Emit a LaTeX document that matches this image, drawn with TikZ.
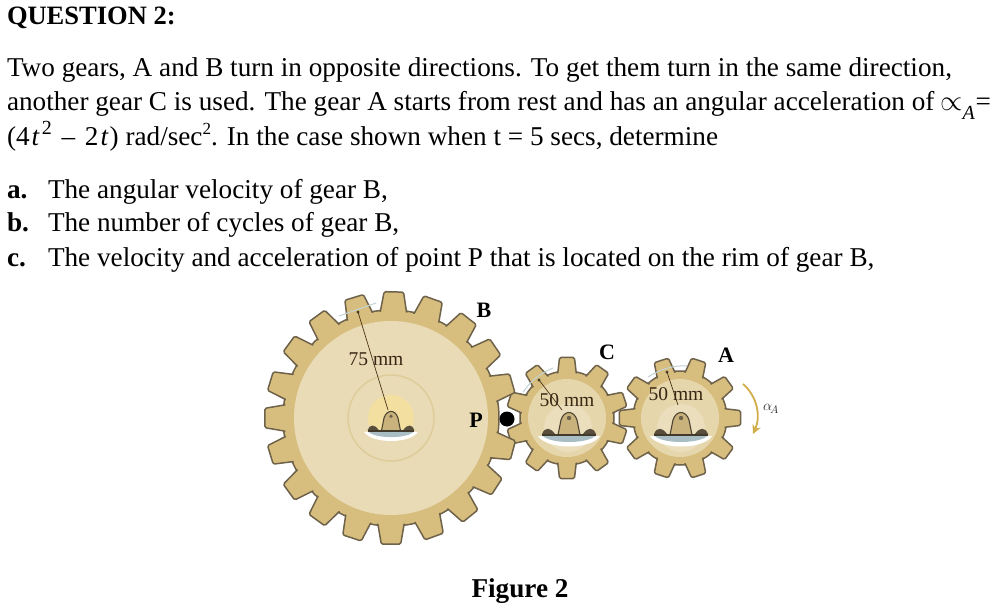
\documentclass[tikz,border=0pt]{standalone}
\usepackage{fontspec}
\setmainfont{Liberation Serif}
\usetikzlibrary{arrows.meta}
\definecolor{toothc}{HTML}{D8BE7E}
\definecolor{edgec}{HTML}{6E624A}
\definecolor{bodyc}{HTML}{E6D6AC}
\definecolor{rimc}{HTML}{D9C48D}
\definecolor{hubc}{HTML}{F3DFA0}
\definecolor{basec}{HTML}{A9BEC4}
\definecolor{pinc}{HTML}{C9B27C}
\definecolor{arrc}{HTML}{D2AE4A}
\tikzset{
  x=1pt,y=-1pt,
  txt/.style={anchor=base west,inner sep=0pt,outer sep=0pt,font=\fontsize{27.2}{30}\selectfont},
  btxt/.style={txt,font=\fontsize{27.2}{30}\selectfont\bfseries},
  lab/.style={anchor=center,inner sep=0pt,font=\fontsize{22}{24}\selectfont\bfseries},
  dim/.style={inner sep=0pt,text=black!70!brown,font=\fontsize{19.5}{22}\selectfont},
  tooth/.style={fill=toothc,draw=edgec,line width=1.5pt,line join=round,rounded corners=1.5pt},
  leader/.style={draw=black!60!brown,line width=.7pt},
}
% \gearbody{cx}{cy}{root}{outer}{half angle root}{half angle tip}{angles}
\newcommand{\gearbody}[7]{%
  \draw[fill=toothc,draw=edgec,line width=1.5pt] (#1,#2) circle (#3);
  \foreach \a in {#7}{%
    \draw[tooth] ({#1+(#3-2)*cos(\a-#5)},{#2-(#3-2)*sin(\a-#5)})
      -- ({#1+(#4)*cos(\a-#6)},{#2-(#4)*sin(\a-#6)})
      -- ({#1+(#4)*cos(\a+#6)},{#2-(#4)*sin(\a+#6)})
      -- ({#1+(#3-2)*cos(\a+#5)},{#2-(#3-2)*sin(\a+#5)});
  }%
  \fill[toothc] (#1,#2) circle (#3-1.5);
}
% \supportpin{x at base}{y at base}{scale}
\newcommand{\supportpin}[3]{%
  \begin{scope}[shift={(#1,#2)},scale=#3]
    \fill[white] (-31,1) -- (31,1) .. controls (22,15) and (-22,15) .. (-31,1) -- cycle;
    \fill[basec] (-26,1) -- (26,1) .. controls (18,9) and (-18,9) .. (-26,1) -- cycle;
    \fill[edgec!80!black] (-27,-1) .. controls (-24,-8) and (-19,-8) .. (-14,-1) -- cycle;
    \fill[edgec!80!black] (27,-1) .. controls (24,-8) and (19,-8) .. (14,-1) -- cycle;
    \draw[fill=pinc,draw=edgec!70!black,line width=1.1pt] (-11,0) -- (-8,-15) .. controls (-5,-25) and (5,-25) .. (8,-15) -- (11,0) -- cycle;
    \fill[edgec] (0,-17) circle (2.2);
    \draw[edgec!60!black,line width=2pt] (-27,0) -- (27,0);
  \end{scope}
}
\begin{document}
\begin{tikzpicture}
\useasboundingbox (0,0) rectangle (994,607);
\fill[white] (0,0) rectangle (994,607);

% text
\node[btxt] (q) at (7,25) {\fontsize{26.5}{30}\selectfont QUESTION 2:};
\node[txt] (l1) at (7,77) {Two gears, A and B turn in opposite directions. To get them turn in the same direction,};
\node[txt] (l2) at (7,111) {another gear C is used. The gear A starts from rest and has an angular acceleration of \hspace{-1pt}\scalebox{1.15}{$\propto$}\raisebox{-.3em}{\fontsize{20}{20}\selectfont\itshape A}\hspace{1pt}=};
\node[txt] (l3) at (7,146) {(4\hspace{2pt}\textit{t}\hspace{2pt}\raisebox{.42em}{\fontsize{20}{20}\selectfont 2}\hspace{3pt} – \hspace{3pt}2\hspace{2pt}\textit{t}\hspace{1pt}) rad/sec\raisebox{.42em}{\fontsize{17}{20}\selectfont 2}. In the case shown when t = 5 secs, determine};
\node[btxt] (am) at (7,198) {a.};
\node[txt] (a) at (48,198) {The angular velocity of gear B,};
\node[btxt] (bm) at (7,231) {b.};
\node[txt] (b) at (48,231) {The number of cycles of gear B,};
\node[btxt] (cm) at (7,266) {c.};
\node[txt] (c) at (48,266) {The velocity and acceleration of point P that is located on the rim of gear B,};

% gear C
\gearbody{567}{418}{47}{61}{12}{7}{90,54,18,-18,-54,-90,-126,-162,162,126}
\fill[bodyc] (567,418) circle (39);
\fill[bodyc!80!white] (568,428) circle (24);
\supportpin{569}{435}{1}
\coordinate (ctip) at (539,380);
\draw[leader] (ctip) -- (562,410);
\fill[edgec!60!black] (ctip) circle (1.6);
\draw[basec!70!white,line width=1pt] (523,392) .. controls (530,382) and (540,373) .. (553,368);

% gear A
\gearbody{680}{418}{47}{61}{12}{7}{0,36,72,108,144,180,216,252,288,324}
\fill[bodyc] (680,418) circle (39);
\fill[bodyc!80!white] (681,428) circle (24);
\supportpin{681}{435}{1}
\coordinate (atip) at (667,372);
\draw[leader] (atip) -- (678,405);
\fill[edgec!60!black] (atip) circle (1.6);
\draw[basec!70!white,line width=1pt] (648,377) .. controls (660,369) and (675,365) .. (687,366);

% gear B
\gearbody{391}{418}{108}{126.5}{7.2}{4.4}{88.7,70.5,52,34.3,16,-14.8,-33,-51,-70,-90,-108,-126,-144,-163,-180,-197,-216,-234,-253}
\fill[bodyc!88!white] (391,418) coordinate (bc) circle (97);
\draw[rimc!55!bodyc,line width=1.5pt] (391,418) circle (43);
\fill[hubc] (391,418) circle (23);
\supportpin{391}{431}{.87}
\coordinate (btip) at (358,312);
\draw[leader] (btip) -- (388,410);
\fill[edgec!60!black] (btip) circle (1.6);
\draw[basec!70!white,line width=1pt] (339,316) -- (376,303);

% labels
\node[dim] (d75) at (376,359) {75 mm};
\node[dim] (d50c) at (567,400) {50 mm};
\node[dim] (d50a) at (676,394) {50 mm};
\node[lab] (lb) at (484,310) {B};
\node[lab] (lc) at (607,352) {C};
\node[lab] (la) at (726,355) {A};
\node[lab] (lp) at (476,420) {P};
\node[circle,fill=black,minimum size=15pt,inner sep=0pt] (pt) at (507,419) {};
\coordinate (as) at (743,384);
\coordinate (ae) at (753,434);
\draw[arrc,line width=1.8pt,-{Stealth[length=9pt,width=9pt]}] (as) .. controls (757,396) and (761,416) .. (ae);
\node[inner sep=0pt,text=black!65!gray,font=\fontsize{15}{16}\selectfont] (alpha) at (771,409) {$\alpha_{\!A}$};
\node[btxt,anchor=base] (fig) at (520,597) {Figure 2};
\end{tikzpicture}
\end{document}
